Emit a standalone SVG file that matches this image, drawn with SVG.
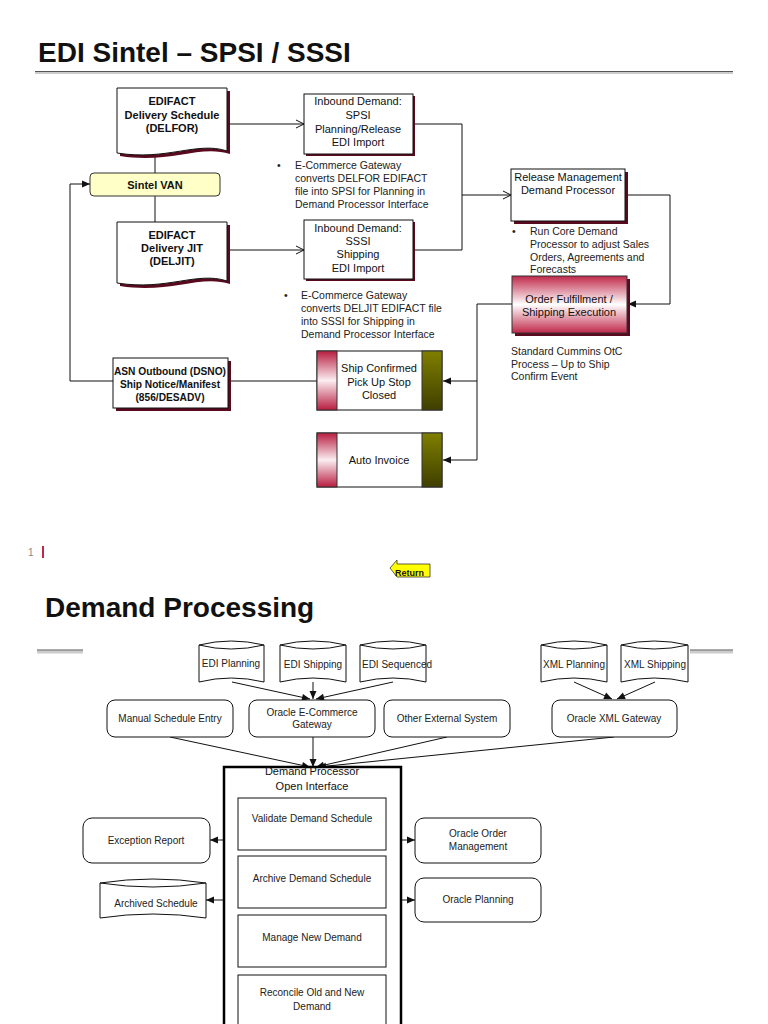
<svg xmlns="http://www.w3.org/2000/svg" width="768" height="1024" viewBox="0 0 768 1024">
<style>
text{font-family:"Liberation Sans",Arial,sans-serif;fill:#111}
.t{font-size:11px;text-anchor:middle}
.b{font-weight:bold}
.a{font-size:10.2px}
.n{font-size:10.5px;fill:#222}
.s{font-size:10px;text-anchor:middle;fill:#222}
.ln{fill:none;stroke:#111;stroke-width:1}
.box{fill:#fff;stroke:#111;stroke-width:1}
.sh{fill:#5a0a1e}
</style>
<defs>
<marker id="open" markerWidth="10" markerHeight="10" refX="9" refY="5" orient="auto" markerUnits="userSpaceOnUse"><path d="M1,1 L9,5 L1,9" fill="none" stroke="#111"/></marker>
<marker id="ar" markerWidth="10" markerHeight="10" refX="9" refY="5" orient="auto" markerUnits="userSpaceOnUse"><path d="M1,1.5 L9,5 L1,8.5 Z" fill="#111"/></marker>
<linearGradient id="red" x1="0" y1="0" x2="0" y2="1"><stop offset="0" stop-color="#c0284a"/><stop offset="0.5" stop-color="#fff"/><stop offset="1" stop-color="#c0284a"/></linearGradient>
<linearGradient id="redh" x1="0" y1="0" x2="0" y2="1"><stop offset="0" stop-color="#b81d40"/><stop offset="0.5" stop-color="#fbeef1"/><stop offset="1" stop-color="#b81d40"/></linearGradient>
<linearGradient id="olive" x1="0" y1="0" x2="0" y2="1"><stop offset="0" stop-color="#7f7f00"/><stop offset="1" stop-color="#3f3f00"/></linearGradient>
</defs>

<!-- Title 1 -->
<text x="38" y="62" style="font-size:28px;font-weight:bold">EDI Sintel – SPSI / SSSI</text>
<line x1="35" y1="73" x2="733" y2="73" stroke="#ccc" stroke-width="2"/>
<line x1="35" y1="71.5" x2="733" y2="71.5" stroke="#555" stroke-width="1"/>

<g id="connectors-top">
<line class="ln" x1="155" y1="152" x2="155" y2="173"/>
<line class="ln" x1="155" y1="196" x2="155" y2="222"/>
<line class="ln" x1="227" y1="124" x2="304" y2="124" marker-end="url(#open)"/>
<line class="ln" x1="227" y1="250" x2="304" y2="250" marker-end="url(#open)"/>
<polyline class="ln" points="413,124 462,124 462,250 413,250"/>
<line class="ln" x1="462" y1="195" x2="511" y2="195" marker-end="url(#open)"/>
<polyline class="ln" points="625,195 670,195 670,304 628,304" marker-end="url(#ar)"/>
<polyline class="ln" points="512,304 477,304 477,460 443,460" marker-end="url(#ar)"/>
<line class="ln" x1="477" y1="381" x2="443" y2="381" marker-end="url(#ar)"/>
<line class="ln" x1="317" y1="381" x2="228" y2="381"/>
<polyline class="ln" points="113,381 70,381 70,184 90,184" marker-end="url(#ar)"/>
</g>

<g id="delfor">
<path class="sh" d="M120,91 H230 V154 C200,144 170,164 120,156 Z"/>
<path class="box" d="M117,88 H227 V151 C197,141 167,161 117,153 Z"/>
<text class="t b" x="172" y="105">EDIFACT</text>
<text class="t b" x="172" y="119">Delivery Schedule</text>
<text class="t b" x="172" y="132">(DELFOR)</text>
</g>
<g id="sintel-van">
<rect x="90" y="173" width="130" height="23" rx="4" fill="#ffffc8" stroke="#333"/>
<text class="t b" x="155" y="189">Sintel VAN</text>
</g>
<g id="deljit">
<path class="sh" d="M120,225 H230 V284 C200,274 170,294 120,286 Z"/>
<path class="box" d="M117,222 H227 V281 C197,271 167,291 117,283 Z"/>
<text class="t b" x="172" y="239">EDIFACT</text>
<text class="t b" x="172" y="252">Delivery JIT</text>
<text class="t b" x="172" y="265">(DELJIT)</text>
</g>
<g id="spsi">
<rect class="sh" x="306" y="96" width="109" height="60"/>
<rect class="box" x="304" y="94" width="109" height="60"/>
<text class="t" x="358" y="105">Inbound Demand:</text>
<text class="t" x="358" y="119">SPSI</text>
<text class="t" x="358" y="133">Planning/Release</text>
<text class="t" x="358" y="146">EDI Import</text>
</g>
<g id="note1">
<text class="n" x="277" y="169">•</text>
<text class="n" x="295" y="169">E-Commerce Gateway</text>
<text class="n" x="295" y="182">converts DELFOR EDIFACT</text>
<text class="n" x="295" y="195">file into SPSI for Planning in</text>
<text class="n" x="295" y="208">Demand Processor Interface</text>
</g>
<g id="sssi">
<rect class="sh" x="306" y="222" width="109" height="59"/>
<rect class="box" x="304" y="220" width="109" height="59"/>
<text class="t" x="358" y="232">Inbound Demand:</text>
<text class="t" x="358" y="245">SSSI</text>
<text class="t" x="358" y="258">Shipping</text>
<text class="t" x="358" y="272">EDI Import</text>
</g>
<g id="note2">
<text class="n" x="284" y="299">•</text>
<text class="n" x="301" y="299">E-Commerce Gateway</text>
<text class="n" x="301" y="312">converts DELJIT EDIFACT file</text>
<text class="n" x="301" y="325">into SSSI for Shipping in</text>
<text class="n" x="301" y="338">Demand Processor Interface</text>
</g>
<g id="release">
<rect class="sh" x="514" y="172" width="114" height="52"/>
<rect class="box" x="511" y="169" width="114" height="52"/>
<text class="t" x="568" y="181">Release Management</text>
<text class="t" x="568" y="194">Demand Processor</text>
</g>
<g id="note3">
<text class="n" x="512" y="235">•</text>
<text class="n" x="530" y="235">Run Core Demand</text>
<text class="n" x="530" y="248">Processor to adjust Sales</text>
<text class="n" x="530" y="261">Orders, Agreements and</text>
<text class="n" x="530" y="273">Forecasts</text>
</g>
<g id="order">
<rect class="sh" x="515" y="279" width="115" height="57"/>
<rect x="512" y="276" width="115" height="57" fill="url(#red)" stroke="#333"/>
<text class="t" x="569" y="303">Order Fulfillment /</text>
<text class="t" x="569" y="316">Shipping Execution</text>
</g>
<g id="note4">
<text class="n" x="511" y="355">Standard Cummins OtC</text>
<text class="n" x="511" y="368">Process – Up to Ship</text>
<text class="n" x="511" y="380">Confirm Event</text>
</g>
<g id="ship-confirmed">
<rect class="box" x="317" y="351" width="125" height="59"/>
<rect x="317" y="351" width="20" height="59" fill="url(#redh)" stroke="#333"/>
<rect x="422" y="351" width="20" height="59" fill="url(#olive)" stroke="#333"/>
<text class="t" x="379" y="372">Ship Confirmed</text>
<text class="t" x="379" y="386">Pick Up Stop</text>
<text class="t" x="379" y="399">Closed</text>
</g>
<g id="auto-invoice">
<rect class="box" x="317" y="433" width="125" height="54"/>
<rect x="317" y="433" width="20" height="54" fill="url(#redh)" stroke="#333"/>
<rect x="422" y="433" width="20" height="54" fill="url(#olive)" stroke="#333"/>
<text class="t" x="379" y="464">Auto Invoice</text>
</g>
<g id="asn">
<rect class="sh" x="116" y="361" width="115" height="50"/>
<rect class="box" x="113" y="358" width="115" height="50"/>
<text class="t b a" x="170" y="375">ASN Outbound (DSNO)</text>
<text class="t b a" x="170" y="388">Ship Notice/Manifest</text>
<text class="t b a" x="170" y="401">(856/DESADV)</text>
</g>

<text x="28" y="556" style="font-size:10px;fill:#888">1</text>
<rect x="42" y="546" width="2" height="12" fill="#c0284a"/>
<g id="return">
<path d="M390,568 L397,560 L397,564 L430,564 L430,577 L397,577 Z" fill="#ffff00" stroke="#333" stroke-width="0.8"/>
<text x="395" y="576" style="font-size:9px;font-weight:bold">Return</text>
</g>

<!-- Slide 2 -->
<text x="45" y="617" style="font-size:28px;font-weight:bold">Demand Processing</text>
<line x1="37" y1="652" x2="83" y2="652" stroke="#ccc" stroke-width="3"/>
<line x1="37" y1="650" x2="83" y2="650" stroke="#555"/>
<line x1="690" y1="652" x2="733" y2="652" stroke="#ccc" stroke-width="3"/>
<line x1="690" y1="650" x2="733" y2="650" stroke="#555"/>

<g id="connectors-bottom">
<line class="ln" x1="232" y1="682" x2="310" y2="699" marker-end="url(#ar)"/>
<line class="ln" x1="313" y1="682" x2="313" y2="699" marker-end="url(#ar)"/>
<line class="ln" x1="393" y1="682" x2="316" y2="699" marker-end="url(#ar)"/>
<line class="ln" x1="574" y1="682" x2="612" y2="699" marker-end="url(#ar)"/>
<line class="ln" x1="655" y1="682" x2="617" y2="699" marker-end="url(#ar)"/>
<line class="ln" x1="170" y1="737" x2="310" y2="767" marker-end="url(#ar)"/>
<line class="ln" x1="313" y1="737" x2="313" y2="767" marker-end="url(#ar)"/>
<line class="ln" x1="447" y1="737" x2="316" y2="767" marker-end="url(#ar)"/>
<line class="ln" x1="614" y1="737" x2="318" y2="767" marker-end="url(#ar)"/>
<line class="ln" x1="312" y1="850" x2="312" y2="856" marker-end="url(#ar)"/>
<line class="ln" x1="312" y1="908" x2="312" y2="915" marker-end="url(#ar)"/>
<line class="ln" x1="312" y1="967" x2="312" y2="975" marker-end="url(#ar)"/>
<line class="ln" x1="224" y1="840" x2="210" y2="840" marker-end="url(#ar)"/>
<line class="ln" x1="224" y1="900" x2="206" y2="900" marker-end="url(#ar)"/>
<line class="ln" x1="401" y1="840" x2="415" y2="840" marker-end="url(#ar)"/>
<line class="ln" x1="401" y1="900" x2="415" y2="900" marker-end="url(#ar)"/>
</g>

<g id="edi-planning"><path class="box" d="M199,645 Q231,637 264,645 V682 Q231,674 199,682 Z"/><path class="ln" d="M199,645 Q231,653 264,645"/><text class="s" x="231" y="667">EDI Planning</text></g>
<g id="edi-shipping"><path class="box" d="M280,645 Q313,637 346,645 V682 Q313,674 280,682 Z"/><path class="ln" d="M280,645 Q313,653 346,645"/><text class="s" x="313" y="668">EDI Shipping</text></g>
<g id="edi-sequenced"><path class="box" d="M360,645 Q393,637 426,645 V682 Q393,674 360,682 Z"/><path class="ln" d="M360,645 Q393,653 426,645"/><text class="s" x="397" y="668">EDI Sequenced</text></g>
<g id="xml-planning"><path class="box" d="M541,645 Q574,637 607,645 V682 Q574,674 541,682 Z"/><path class="ln" d="M541,645 Q574,653 607,645"/><text class="s" x="574" y="668">XML Planning</text></g>
<g id="xml-shipping"><path class="box" d="M621,645 Q654,637 688,645 V682 Q654,674 621,682 Z"/><path class="ln" d="M621,645 Q654,653 688,645"/><text class="s" x="655" y="668">XML Shipping</text></g>

<g id="manual"><rect class="box" x="107" y="700" width="126" height="37" rx="8"/><text class="s" x="170" y="722">Manual Schedule Entry</text></g>
<g id="ecommerce"><rect class="box" x="249" y="700" width="126" height="37" rx="8"/><text class="s" x="312" y="716">Oracle E-Commerce</text><text class="s" x="312" y="728">Gateway</text></g>
<g id="other"><rect class="box" x="384" y="700" width="126" height="37" rx="8"/><text class="s" x="447" y="722">Other External System</text></g>
<g id="xml-gateway"><rect class="box" x="552" y="700" width="125" height="37" rx="8"/><text class="s" x="614" y="722">Oracle XML Gateway</text></g>

<g id="demand-processor">
<rect x="224" y="767" width="177" height="270" fill="#fff" stroke="#000" stroke-width="2.5"/>
<text class="t" x="312" y="775">Demand Processor</text>
<text class="t" x="312" y="790">Open Interface</text>
</g>
<g id="validate"><rect class="box" x="238" y="798" width="148" height="52"/><text class="s" x="312" y="822">Validate Demand Schedule</text></g>
<g id="archive"><rect class="box" x="238" y="856" width="148" height="52"/><text class="s" x="312" y="882">Archive Demand Schedule</text></g>
<g id="manage"><rect class="box" x="238" y="915" width="148" height="52"/><text class="s" x="312" y="941">Manage New Demand</text></g>
<g id="reconcile"><rect class="box" x="238" y="975" width="148" height="60"/><text class="s" x="312" y="996">Reconcile Old and New</text><text class="s" x="312" y="1010">Demand</text></g>

<g id="exception"><rect class="box" x="83" y="818" width="127" height="45" rx="9"/><text class="s" x="146" y="844">Exception Report</text></g>
<g id="archived"><path class="box" d="M100,883 Q153,875 206,883 V918 Q153,910 100,918 Z"/><path class="ln" d="M100,883 Q153,891 206,883"/><text class="s" x="156" y="907">Archived Schedule</text></g>
<g id="order-mgmt"><rect class="box" x="415" y="818" width="126" height="45" rx="9"/><text class="s" x="478" y="837">Oracle Order</text><text class="s" x="478" y="850">Management</text></g>
<g id="planning"><rect class="box" x="415" y="878" width="126" height="44" rx="9"/><text class="s" x="478" y="903">Oracle Planning</text></g>
</svg>
